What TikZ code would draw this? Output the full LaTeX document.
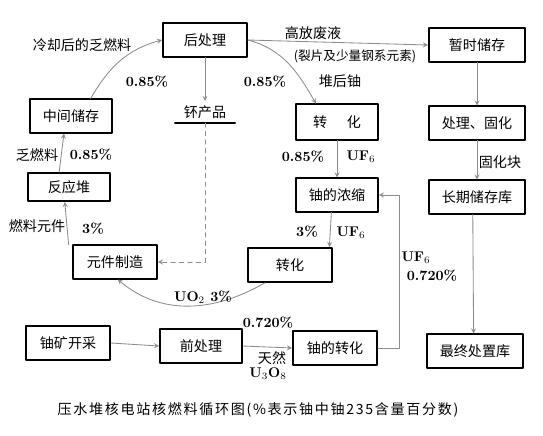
\documentclass[tikz,border=0pt]{standalone}
\usepackage{fontspec}
\newfontfamily\cjk{Noto Sans CJK SC}
\newfontfamily\cjkwide[LetterSpace=12]{Noto Sans CJK SC}
\begin{document}
\begin{tikzpicture}[x=0.025cm,y=0.025cm,line join=round,line cap=round,>=stealth]
            \tikzset{box/.style={draw,line width=1.3pt,minimum width=2.1cm,minimum height=0.83cm,font=\cjk\fontsize{10}{12}\selectfont},
                wide/.style={box,minimum width=2.4cm},
                conn/.style={draw=black!45,line width=0.6pt,->},
                lab/.style={font=\cjk\fontsize{10}{12}\selectfont,inner sep=1pt},
                num/.style={font=\fontsize{10}{12}\selectfont\bfseries,inner sep=1pt}}
            \useasboundingbox (0,0) rectangle (543,-435);
            %% boxes
            \node[box] (hou) at (205,-40) {后处理};
            \node[wide] (zan) at (477,-45) {暂时储存};
            \node[box,minimum width=2.05cm] (zj) at (71,-116) {中间储存};
            \node[lab,minimum width=1.5cm] (pu) at (205,-112) {钚产品};
            \node[box,minimum width=2.05cm,minimum height=0.88cm] (zh1) at (337,-122) {转\hspace{1.4em}化};
            \node[wide] (gh) at (477,-123) {处理、固化};
            \node[box,minimum width=2.05cm,minimum height=0.7cm] (fy) at (69,-187) {反应堆};
            \node[box,minimum width=2.05cm] (nong) at (337,-195) {铀的浓缩};
            \node[wide] (cq) at (477,-197) {长期储存库};
            \node[box] (yj) at (115,-262) {元件制造};
            \node[box,minimum height=0.85cm] (zh2) at (290,-265) {转化};
            \node[box] (ky) at (68,-343) {铀矿开采};
            \node[box,minimum width=2.05cm] (qcl) at (201,-346) {前处理};
            \node[box] (uzh) at (335,-348) {铀的转化};
            \node[wide] (zz) at (475,-351) {最终处置库};
            \draw[line width=0.8pt] ([yshift=-2pt]pu.south west) -- ([yshift=-2pt]pu.south east);
            %% connectors
            \draw[conn] ([xshift=14]zj.north) to[out=60,in=195] (hou.west);
            \draw[conn] (hou.east) to[out=-15,in=120] ([xshift=-15]zh1.north);
            \draw[conn] (hou.east) -- (zan.west);
            \draw[conn] (hou.south) -- ([yshift=2pt]pu.north);
            \draw[conn,dashed] ([yshift=-2pt]pu.south) |- (yj.east);
            \draw[conn] (zan.south) -- (gh.north);
            \draw[conn] (gh.south) -- (cq.north);
            \draw[conn] ([xshift=-3]cq.south) -- ([xshift=-1]zz.north);
            \draw[conn] (zh1.south) -- (nong.north);
            \draw[conn] ([xshift=-4]nong.south) -- ([xshift=28]zh2.north);
            \draw[conn] ([xshift=-18]zh2.south) to[out=-150,in=-40] ([xshift=2]yj.south);
            \draw[conn] ([xshift=-33]yj.north) -- ([xshift=-3]fy.south);
            \draw[conn] ([xshift=-7]fy.north) -- ([xshift=-5]zj.south);
            \coordinate (c1) at (399,-195);
            \draw[conn] (uzh.east) -| (c1) -- (nong.east);
            \draw[conn] (ky.east) -- (qcl.west);
            \draw[conn] (qcl.east) -- (uzh.west);
            %% labels
            \node[lab] (l1) at (82,-45) {冷却后的乏燃料};
            \node[num] (l2) at (147,-82) {0.85\%};
            \node[lab] (l3) at (313,-33) {高放废液};
            \node[lab,font=\cjk\fontsize{9}{11}\selectfont] (l4) at (355,-56) {(裂片及少量钢系元素)};
            \node[num] (l5) at (265,-82) {0.85\%};
            \node[lab] (l6) at (340,-81) {堆后铀};
            \node[num] (l7) at (303,-157) {0.85\%};
            \node[num] (l8) at (361,-157) {UF$_6$};
            \node[lab] (l9) at (500,-162) {固化块};
            \node[lab] (l10) at (37,-155) {乏燃料};
            \node[num] (l11) at (91,-155) {0.85\%};
            \node[lab] (l12) at (37,-226) {燃料元件};
            \node[num] (l13) at (93,-229) {3\%};
            \node[num] (l14) at (307,-232) {3\%};
            \node[num] (l15) at (351,-233) {UF$_6$};
            \node[num] (l16) at (416,-258) {UF$_6$};
            \node[num] (l17) at (432,-276) {0.720\%};
            \node[num] (l18) at (203,-297) {UO$_2$ 3\%};
            \node[num] (l19) at (268,-323) {0.720\%};
            \node[lab] (l20) at (272,-358) {天然};
            \node[num] (l21) at (268,-374) {U$_3$O$_8$};
            \node[lab,font=\cjkwide\fontsize{10}{12}\selectfont] (cap) at (258,-410) {压水堆核电站核燃料循环图(\%表示铀中铀235含量百分数)};
        \end{tikzpicture}
\end{document}
